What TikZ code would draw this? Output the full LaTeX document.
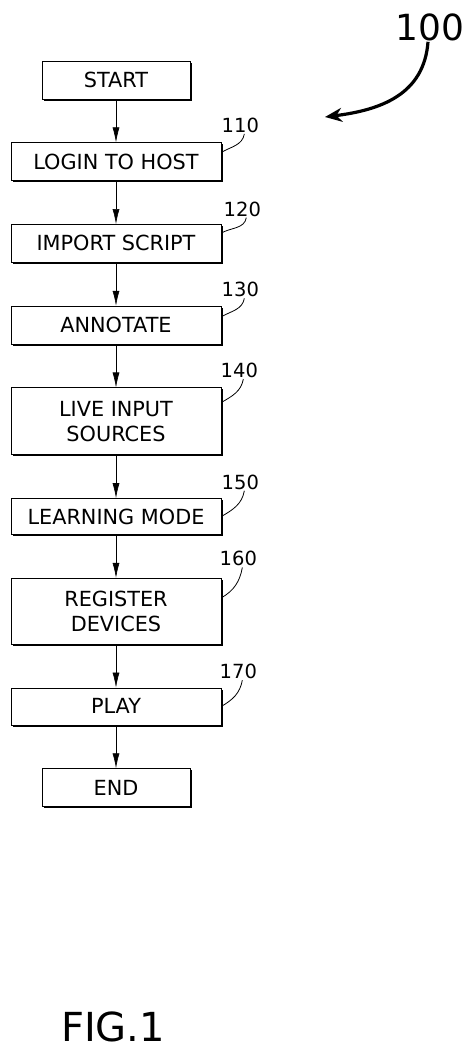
\documentclass[tikz,border=0pt]{standalone}
\usepackage{fontspec}
\setmainfont{DejaVu Sans}
\usepackage{tikz}
\usetikzlibrary{arrows.meta, positioning, shadows}

\tikzset{
  stepbox/.style={draw, line width=0.7pt, fill=white, minimum width=210pt,
    minimum height=38pt, align=center, inner sep=2pt,
    font=\fontsize{20.8}{25}\selectfont,
    drop shadow={shadow xshift=1.6pt, shadow yshift=-1.6pt, fill=black, opacity=1}},
  endbox/.style={stepbox, minimum width=148pt},
  tall/.style={minimum height=67pt},
  reflabel/.style={inner sep=1pt, font=\fontsize{19.5}{19.5}\selectfont},
  flow/.style={line width=0.6pt, -{Latex[length=15pt,width=7pt]}},
  leader/.style={line width=0.8pt}
}

\begin{document}
\begin{tikzpicture}[x=1pt, y=-1pt, node distance=43pt]
  \useasboundingbox (0,0) rectangle (474,1052);

  % flow chart
  \node[endbox] (start) at (116,80) {START};
  \node[stepbox, below=of start] (login) {LOGIN TO HOST};
  \node[stepbox, below=of login] (import) {IMPORT SCRIPT};
  \node[stepbox, below=of import] (annotate) {ANNOTATE};
  \node[stepbox, tall, below=of annotate] (live) {LIVE INPUT\\SOURCES};
  \node[stepbox, minimum height=36pt, below=of live] (learning) {LEARNING MODE};
  \node[stepbox, minimum height=66pt, below=of learning] (register) {REGISTER\\DEVICES};
  \node[stepbox, minimum height=37pt, below=of register] (play) {PLAY};
  \node[endbox, below=of play] (end) {END};

  \draw[flow] (start) -- (login);
  \draw[flow] (login) -- (import);
  \draw[flow] (import) -- (annotate);
  \draw[flow] (annotate) -- (live);
  \draw[flow] (live) -- (learning);
  \draw[flow] (learning) -- (register);
  \draw[flow] (register) -- (play);
  \draw[flow] (play) -- (end);

  % reference numerals
  \node[reflabel] (n110) at ([xshift=19pt,yshift=17pt]login.north east) {110};
  \node[reflabel] (n120) at ([xshift=21pt,yshift=15pt]import.north east) {120};
  \node[reflabel] (n130) at ([xshift=19pt,yshift=16pt]annotate.north east) {130};
  \node[reflabel] (n140) at ([xshift=18pt,yshift=17pt]live.north east) {140};
  \node[reflabel] (n150) at ([xshift=19pt,yshift=16pt]learning.north east) {150};
  \node[reflabel] (n160) at ([xshift=17pt,yshift=19pt]register.north east) {160};
  \node[reflabel] (n170) at ([xshift=17pt,yshift=16pt]play.north east) {170};

  \draw[leader] ([yshift=-10pt]login.north east) to[out=30,in=-100] ([xshift=4pt]n110.south);
  \draw[leader] ([yshift=-9pt]import.north east) to[out=30,in=-100] ([xshift=4pt]n120.south);
  \draw[leader] ([yshift=-11pt]annotate.north east) to[out=30,in=-100] ([xshift=4pt]n130.south);
  \draw[leader] ([yshift=-15pt]live.north east) to[out=30,in=-100] ([xshift=4pt]n140.south);
  \draw[leader] (learning.east) to[out=30,in=-100] ([xshift=4pt]n150.south);
  \draw[leader] ([yshift=-20pt]register.north east) to[out=30,in=-100] ([xshift=4pt]n160.south);
  \draw[leader] (play.east) to[out=30,in=-100] ([xshift=4pt]n170.south);

  % figure numeral
  \node[inner sep=1pt, font=\fontsize{36}{36}\selectfont] (n100) at (430,27) {100};
  \coordinate (tip100) at (325,117);
  \draw[line width=3.2pt, -{Stealth[length=17pt,width=14pt]}]
    ([xshift=-2pt]n100.south) .. controls (424,95) and (380,110) .. (tip100);

  \node[font=\fontsize{40}{40}\selectfont] (fig) at (113,1027) {FIG.1};
\end{tikzpicture}
\end{document}
